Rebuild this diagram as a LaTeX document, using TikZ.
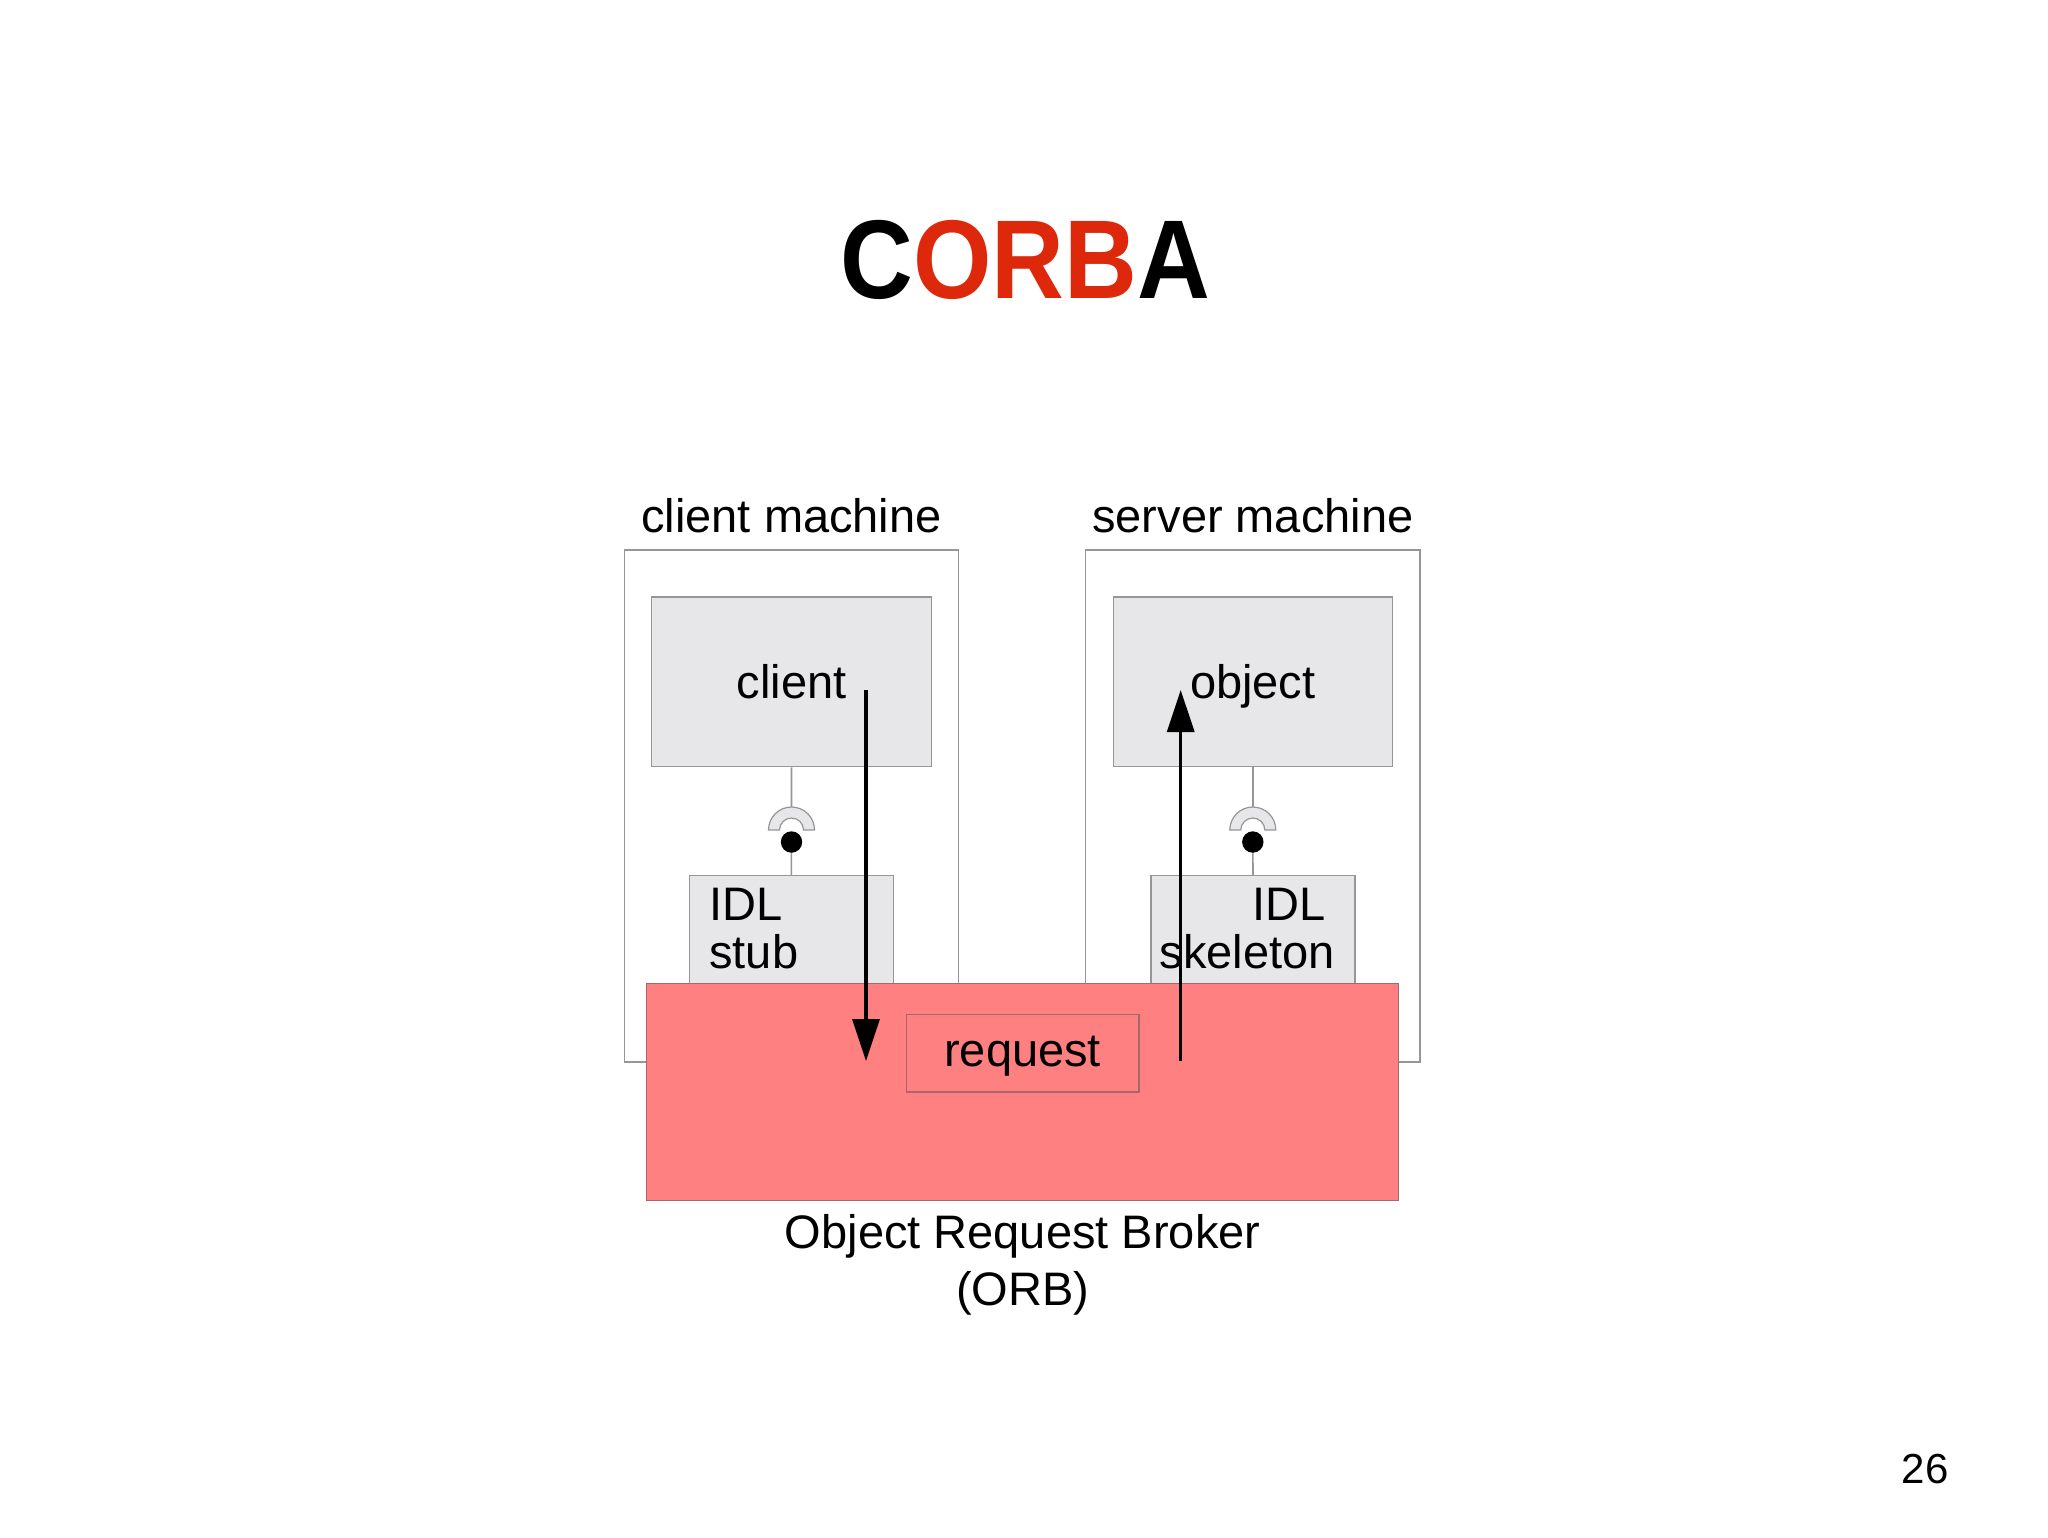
\documentclass[tikz,border=0pt]{standalone}
\usepackage{fontspec}
\setmainfont{Liberation Sans}
\usetikzlibrary{arrows.meta,fit}
\definecolor{titlered}{RGB}{221,40,12}
\definecolor{boxgray}{RGB}{231,230,232}
\definecolor{edgegray}{RGB}{150,150,150}
\definecolor{orbred}{RGB}{255,128,128}
\definecolor{orbedge}{RGB}{165,105,105}
\begin{document}
\begin{tikzpicture}[x=0.5pt,y=-0.5pt,
  txt/.style={font=\fontsize{23.5}{24}\selectfont, inner sep=0pt},
  machine/.style={draw=edgegray, fill=white, line width=0.6pt, inner sep=0pt},
  comp/.style={draw=edgegray, fill=boxgray, line width=0.6pt, inner sep=0pt},
  orbbox/.style={draw=orbedge, fill=orbred, line width=0.6pt, inner sep=0pt},
  link/.style={draw=edgegray, line width=0.8pt},
  socket/.style={draw=edgegray, fill=boxgray, line width=0.6pt},
  flow/.style={line width=1.7pt, -{Triangle[length=21pt,width=13.5pt]}}
]
\fill[white] (0,0) rectangle (2048,1537);
\useasboundingbox (0,0) rectangle (2048,1537);

% title
\node[inner sep=0pt, anchor=base, font=\fontsize{56}{60}\selectfont\bfseries] (title) at (1025,298)
  {\scalebox{0.9}[1]{C\textcolor{titlered}{ORB}A}};

% machines
\node[machine, fit={(624.3,550) (958.7,1062)}] (cm) {};
\node[machine, fit={(1085.7,550) (1420,1062)}] (sm) {};
\node[txt, anchor=base] (cmlab) at ([yshift=8.5pt]cm.north) {client machine};
\node[txt, anchor=base] (smlab) at ([yshift=8.5pt]sm.north) {server machine};

% components
\node[comp, fit={(651.7,596.9) (931.3,766.7)}] (client) {};
\node[comp, fit={(1113.3,596.9) (1392.3,766.7)}] (object) {};
\node[txt, anchor=base] (clienttxt) at (791.5,698) {client};
\node[txt, anchor=base] (objecttxt) at (1252.8,698) {object};

% interface connectors
\coordinate (ctop) at (791.5,807);
\coordinate (cmid) at (791.5,830);
\coordinate (cdot) at (791.5,842);
\coordinate (stop) at (1252.8,807);
\coordinate (smid) at (1252.8,830);
\coordinate (sdot) at (1252.8,842);

\node[comp, fit={(689.3,875.7) (893.3,995)}] (stub) {};
\node[comp, fit={(1151,875.7) (1355,995)}] (skel) {};

\draw[link] (client.south) -- (ctop);
\draw[link] (cdot) -- (stub.north);
\draw[link] (object.south) -- (stop);
\draw[link] (sdot) -- (skel.north);

\draw[socket] ([xshift=-11.5pt]cmid) arc[start angle=180,end angle=0,radius=11.5pt]
  -- ++(-5.5pt,0) arc[start angle=0,end angle=180,radius=6pt] -- cycle;
\draw[socket] ([xshift=-11.5pt]smid) arc[start angle=180,end angle=0,radius=11.5pt]
  -- ++(-5.5pt,0) arc[start angle=0,end angle=180,radius=6pt] -- cycle;
\fill[black] (cdot) circle[radius=5.35pt];
\fill[black] (sdot) circle[radius=5.35pt];

\node[txt, anchor=north west, align=left] (stubtxt) at (709,888) {IDL\\stub};
\node[txt, anchor=north east, align=right] (skeltxt) at (1335,888) {IDL\kern4.6pt\\skeleton};

% ORB
\node[orbbox, fit={(646.5,983.5) (1398.8,1200.3)}] (orb) {};
\node[orbbox, fit={(906.4,1014.8) (1138.9,1091.9)}] (req) {};
\node[txt, anchor=base] (reqtxt) at (1022.6,1066) {request};
\node[txt, anchor=north, align=center, font=\fontsize{23.5}{28.5}\selectfont] (orblab)
  at ([yshift=-6.5pt]orb.south) {Object Request Broker\\(ORB)};

% flows
\coordinate (a1) at (866,690);
\coordinate (a2) at (866,1061);
\coordinate (b1) at (1180.7,1061);
\coordinate (b2) at (1180.7,690);
\draw[flow] (a1) -- (a2);
\draw[flow] (b1) -- (b2);

% page number
\node[inner sep=0pt, font=\fontsize{21}{24}\selectfont] (page) at (1925,1469) {26};
\end{tikzpicture}
\end{document}
